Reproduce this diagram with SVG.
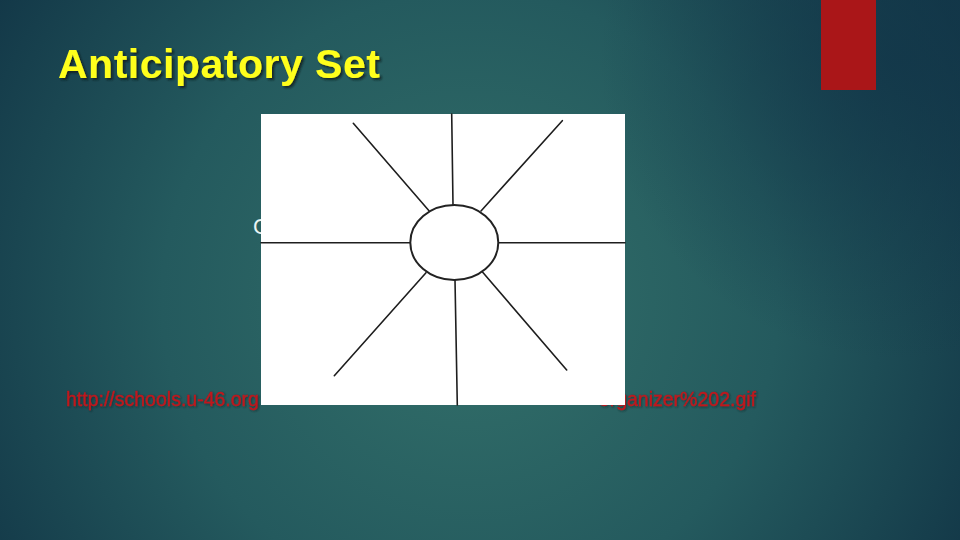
<svg xmlns="http://www.w3.org/2000/svg" width="960" height="540" viewBox="0 0 960 540">
  <defs>
    <radialGradient id="bg" cx="470" cy="300" r="560" gradientUnits="userSpaceOnUse">
      <stop offset="0" stop-color="#33706a"/>
      <stop offset="0.55" stop-color="#245a5e"/>
      <stop offset="1" stop-color="#133848"/>
    </radialGradient>
    <radialGradient id="tr" cx="900" cy="60" r="300" gradientUnits="userSpaceOnUse">
      <stop offset="0" stop-color="#123649" stop-opacity="0.8"/>
      <stop offset="1" stop-color="#123649" stop-opacity="0"/>
    </radialGradient>
    <filter id="sh" x="-5%" y="-20%" width="110%" height="140%">
      <feDropShadow dx="2" dy="2" stdDeviation="1.2" flood-color="#0a1a1e" flood-opacity="0.8"/>
    </filter>
    <filter id="sh2" x="-5%" y="-30%" width="110%" height="160%">
      <feDropShadow dx="1" dy="1" stdDeviation="0.8" flood-color="#0a1a1e" flood-opacity="0.6"/>
    </filter>
  </defs>
  <style>
    .ray { stroke: #1e1e1e; stroke-width: 1.6; fill: none; stroke-linecap: round; }
    .title { font-family: "Liberation Sans", Arial, sans-serif; font-weight: bold; font-size: 41px; fill: #ffff1e; letter-spacing: 0.5px; }
    .url { font-family: "Liberation Sans", Arial, sans-serif; font-size: 19.5px; fill: #c0161c; stroke: #c0161c; stroke-width: 0.3; }
  </style>
  <rect width="960" height="540" fill="url(#bg)"/>
  <rect width="960" height="540" fill="url(#tr)"/>
  <rect id="accent" x="821" y="0" width="55" height="90" fill="#aa1618"/>

  <g id="title">
    <text class="title" x="58" y="78" filter="url(#sh)">Anticipatory Set</text>
  </g>

  <g id="hidden-text">
    <text x="253" y="234" font-family="Liberation Sans, Arial, sans-serif" font-size="22" fill="#e8f4f4">C</text>
  </g>

  <g id="url" filter="url(#sh2)">
    <text class="url" x="66" y="406">http://schools.u-46.org</text>
    <text class="url" x="756" y="406" text-anchor="end">organizer%202.gif</text>
  </g>

  <g id="organizer">
    <rect x="261" y="114" width="364" height="291" fill="#ffffff"/>
    <g id="connectors">
      <line class="ray" x1="451.7" y1="114" x2="453" y2="205"/>
      <line class="ray" x1="353.3" y1="123.3" x2="429" y2="210.7"/>
      <line class="ray" x1="562.3" y1="120.7" x2="481" y2="211"/>
      <line class="ray" x1="261" y1="242.7" x2="410.3" y2="242.7"/>
      <line class="ray" x1="498.3" y1="242.7" x2="625" y2="242.7"/>
      <line class="ray" x1="426" y1="272.7" x2="334.3" y2="375.7"/>
      <line class="ray" x1="455" y1="280" x2="457.3" y2="405"/>
      <line class="ray" x1="482.7" y1="272.3" x2="566.7" y2="370"/>
    </g>
    <g id="center">
      <ellipse cx="454.3" cy="242.5" rx="44" ry="37.5" fill="#ffffff" stroke="#222" stroke-width="2"/>
    </g>
  </g>
</svg>
